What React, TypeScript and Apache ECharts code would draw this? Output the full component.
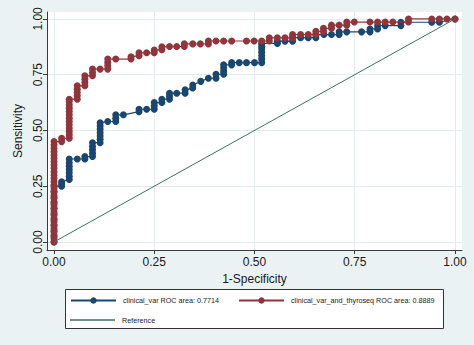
import React, { useEffect, useRef } from "react";
import * as echarts from "echarts";

// Tick values and labels
const xTicks = [0, 0.25, 0.5, 0.75, 1];
const yTicks = [0, 0.25, 0.5, 0.75, 1];

const clinicalName = "clinical_var ROC area: 0.7714";
const thyroseqName = "clinical_var_and_thyroseq ROC area: 0.8889";
const referenceName = "Reference";

// ROC points: [1-specificity, sensitivity]
const clinicalVar: [number, number][] = [
  [0, 0], [0, 0.025], [0, 0.05], [0, 0.075], [0, 0.1], [0, 0.125], [0, 0.15], [0, 0.175], [0, 0.2], [0, 0.225], [0, 0.25],
  [0.019, 0.25], [0.019, 0.26], [0.019, 0.27],
  [0.038, 0.28], [0.038, 0.295], [0.038, 0.31], [0.038, 0.325], [0.038, 0.34], [0.038, 0.355], [0.038, 0.372],
  [0.058, 0.372],
  [0.077, 0.372], [0.077, 0.383],
  [0.096, 0.383], [0.096, 0.398], [0.096, 0.413], [0.096, 0.428], [0.096, 0.445],
  [0.115, 0.445], [0.115, 0.46], [0.115, 0.475], [0.115, 0.49], [0.115, 0.505], [0.115, 0.52], [0.115, 0.534],
  [0.134, 0.54],
  [0.154, 0.54], [0.154, 0.555], [0.154, 0.57],
  [0.173, 0.57],
  [0.212, 0.584], [0.212, 0.595],
  [0.231, 0.595],
  [0.25, 0.595], [0.25, 0.61], [0.25, 0.625],
  [0.269, 0.625], [0.269, 0.64],
  [0.288, 0.64], [0.288, 0.653], [0.288, 0.667],
  [0.306, 0.667],
  [0.327, 0.667], [0.327, 0.682],
  [0.346, 0.69], [0.346, 0.704],
  [0.366, 0.72],
  [0.385, 0.734],
  [0.404, 0.734], [0.404, 0.752],
  [0.423, 0.752], [0.423, 0.765], [0.423, 0.78], [0.423, 0.794],
  [0.443, 0.794], [0.443, 0.804],
  [0.462, 0.804], [0.48, 0.804], [0.5, 0.804],
  [0.518, 0.804], [0.518, 0.82], [0.518, 0.835], [0.518, 0.85], [0.518, 0.865], [0.518, 0.878], [0.518, 0.89],
  [0.557, 0.89], [0.557, 0.9],
  [0.576, 0.9], [0.595, 0.9], [0.595, 0.916],
  [0.615, 0.916], [0.634, 0.916],
  [0.653, 0.916], [0.653, 0.93],
  [0.673, 0.93], [0.692, 0.93],
  [0.711, 0.93], [0.711, 0.942],
  [0.73, 0.942], [0.767, 0.942],
  [0.788, 0.942], [0.788, 0.955],
  [0.807, 0.955], [0.807, 0.97],
  [0.826, 0.97],
  [0.865, 0.97], [0.865, 0.985],
  [0.942, 0.985], [0.961, 0.985],
  [1, 1],
];

const clinicalThyroseq: [number, number][] = [
  [0, 0], [0, 0.015], [0, 0.03], [0, 0.045], [0, 0.06], [0, 0.075], [0, 0.09], [0, 0.105], [0, 0.12], [0, 0.135],
  [0, 0.15], [0, 0.165], [0, 0.18], [0, 0.195], [0, 0.21], [0, 0.225], [0, 0.24], [0, 0.255], [0, 0.27], [0, 0.285],
  [0, 0.3], [0, 0.315], [0, 0.33], [0, 0.345], [0, 0.36], [0, 0.375], [0, 0.39], [0, 0.405], [0, 0.42], [0, 0.435], [0, 0.45],
  [0.019, 0.45], [0.019, 0.465],
  [0.038, 0.465], [0.038, 0.48], [0.038, 0.495], [0.038, 0.51], [0.038, 0.525], [0.038, 0.54], [0.038, 0.555],
  [0.038, 0.57], [0.038, 0.585], [0.038, 0.6], [0.038, 0.615], [0.038, 0.63], [0.038, 0.64],
  [0.058, 0.64], [0.058, 0.655], [0.058, 0.67], [0.058, 0.685], [0.058, 0.7],
  [0.077, 0.7], [0.077, 0.715], [0.077, 0.73], [0.077, 0.745],
  [0.096, 0.745], [0.096, 0.76], [0.096, 0.775],
  [0.115, 0.775],
  [0.134, 0.775], [0.134, 0.79], [0.134, 0.805], [0.134, 0.82],
  [0.154, 0.82],
  [0.192, 0.82], [0.192, 0.83],
  [0.212, 0.835], [0.212, 0.848],
  [0.231, 0.848],
  [0.25, 0.848], [0.25, 0.86],
  [0.269, 0.862], [0.269, 0.875],
  [0.288, 0.876], [0.306, 0.876],
  [0.325, 0.876], [0.325, 0.888],
  [0.346, 0.888], [0.365, 0.888],
  [0.385, 0.888], [0.385, 0.901],
  [0.404, 0.901], [0.423, 0.901], [0.443, 0.901], [0.48, 0.901], [0.499, 0.901], [0.518, 0.901],
  [0.537, 0.901], [0.537, 0.915],
  [0.557, 0.915], [0.576, 0.915],
  [0.595, 0.915], [0.595, 0.93],
  [0.615, 0.93], [0.634, 0.93],
  [0.653, 0.93], [0.653, 0.944],
  [0.672, 0.944], [0.672, 0.958],
  [0.692, 0.958], [0.692, 0.972],
  [0.711, 0.972],
  [0.73, 0.972], [0.73, 0.986],
  [0.749, 0.986], [0.788, 0.986], [0.807, 0.986], [0.826, 0.986], [0.845, 0.986],
  [0.884, 0.986], [0.884, 1],
  [0.942, 1], [0.961, 1], [0.98, 1], [1, 1],
];

const referenceLine: [number, number][] = [
  [0, 0],
  [1, 1],
];

const BLUE = "#1a476f";
const RED = "#90353b";
const REF = "#3f6f62";
const TEXT = "#1a1a1a";
const AXIS = "#3a3a3a";
const BG = "#eaf2f3";
const FONT = "'Liberation Sans', Arial, sans-serif";

export default function App() {
  const ref = useRef<HTMLDivElement>(null);

  useEffect(() => {
    if (!ref.current) return;
    const chart = echarts.init(ref.current, undefined, { renderer: "svg" });

    const legendCommon = {
      orient: "horizontal",
      padding: 0,
      itemWidth: 45,
      itemHeight: 8,
      itemGap: 0,
      selectedMode: false,
      textStyle: {
        fontSize: 7.2,
        color: TEXT,
        fontFamily: FONT,
        padding: [0, 0, 0, 2],
      },
    };

    chart.setOption({
      animation: false,
      backgroundColor: BG,
      textStyle: { fontFamily: FONT },
      grid: {
        left: 47,
        top: 12,
        width: 415,
        height: 238,
        show: true,
        backgroundColor: "#ffffff",
        borderWidth: 0,
        containLabel: false,
      },
      xAxis: {
        type: "value",
        min: -0.0175,
        max: 1.0175,
        name: "1-Specificity",
        nameLocation: "middle",
        nameGap: 18,
        nameTextStyle: { fontSize: 12, color: TEXT, fontFamily: FONT },
        axisLine: { show: true, onZero: false, lineStyle: { color: AXIS, width: 1 } },
        axisTick: { show: true, inside: false, length: 4, customValues: xTicks, lineStyle: { color: AXIS } },
        axisLabel: {
          customValues: xTicks,
          formatter: (v: number) => v.toFixed(2),
          fontSize: 12,
          margin: 6,
          color: TEXT,
          fontFamily: FONT,
        },
        splitLine: { show: true, lineStyle: { color: "#e4ecee", width: 1 } },
      },
      yAxis: {
        type: "value",
        min: -0.036,
        max: 1.031,
        name: "Sensitivity",
        nameLocation: "middle",
        nameGap: 18,
        nameRotate: 90,
        nameTextStyle: { fontSize: 12, color: TEXT, fontFamily: FONT },
        axisLine: { show: true, onZero: false, lineStyle: { color: AXIS, width: 1 } },
        axisTick: { show: true, inside: false, length: 4, customValues: yTicks, lineStyle: { color: AXIS } },
        axisLabel: {
          customValues: yTicks,
          formatter: (v: number) => v.toFixed(2),
          fontSize: 12,
          margin: 3,
          rotate: 90,
          color: TEXT,
          fontFamily: FONT,
        },
        splitLine: { show: true, lineStyle: { color: "#e4ecee", width: 1 } },
      },
      legend: [
        { ...legendCommon, left: 70, top: 297, data: [clinicalName] },
        { ...legendCommon, left: 238, top: 297, data: [thyroseqName] },
        {
          ...legendCommon,
          left: 70,
          top: 316.5,
          itemHeight: 1.5,
          data: [{ name: referenceName, icon: "rect" }],
        },
      ],
      graphic: [
        {
          type: "rect",
          z: 1,
          shape: { x: 65.5, y: 289.5, width: 378, height: 39 },
          style: { fill: "#ffffff", stroke: "#333333", lineWidth: 1 },
        },
      ],
      series: [
        {
          name: clinicalName,
          type: "line",
          data: clinicalVar,
          symbol: "circle",
          symbolSize: 7,
          showSymbol: true,
          lineStyle: { color: BLUE, width: 1.2 },
          itemStyle: { color: BLUE },
          z: 2,
        },
        {
          name: thyroseqName,
          type: "line",
          data: clinicalThyroseq,
          symbol: "circle",
          symbolSize: 7,
          showSymbol: true,
          lineStyle: { color: RED, width: 1.2 },
          itemStyle: { color: RED },
          z: 3,
        },
        {
          name: referenceName,
          type: "line",
          data: referenceLine,
          symbol: "none",
          lineStyle: { color: REF, width: 1 },
          itemStyle: { color: REF },
          z: 4,
        },
      ],
    });

    return () => {
      chart.dispose();
    };
  }, []);

  return (
    <div
      ref={ref}
      style={{ position: "fixed", left: 0, top: 0, width: 474, height: 345 }}
    />
  );
}
